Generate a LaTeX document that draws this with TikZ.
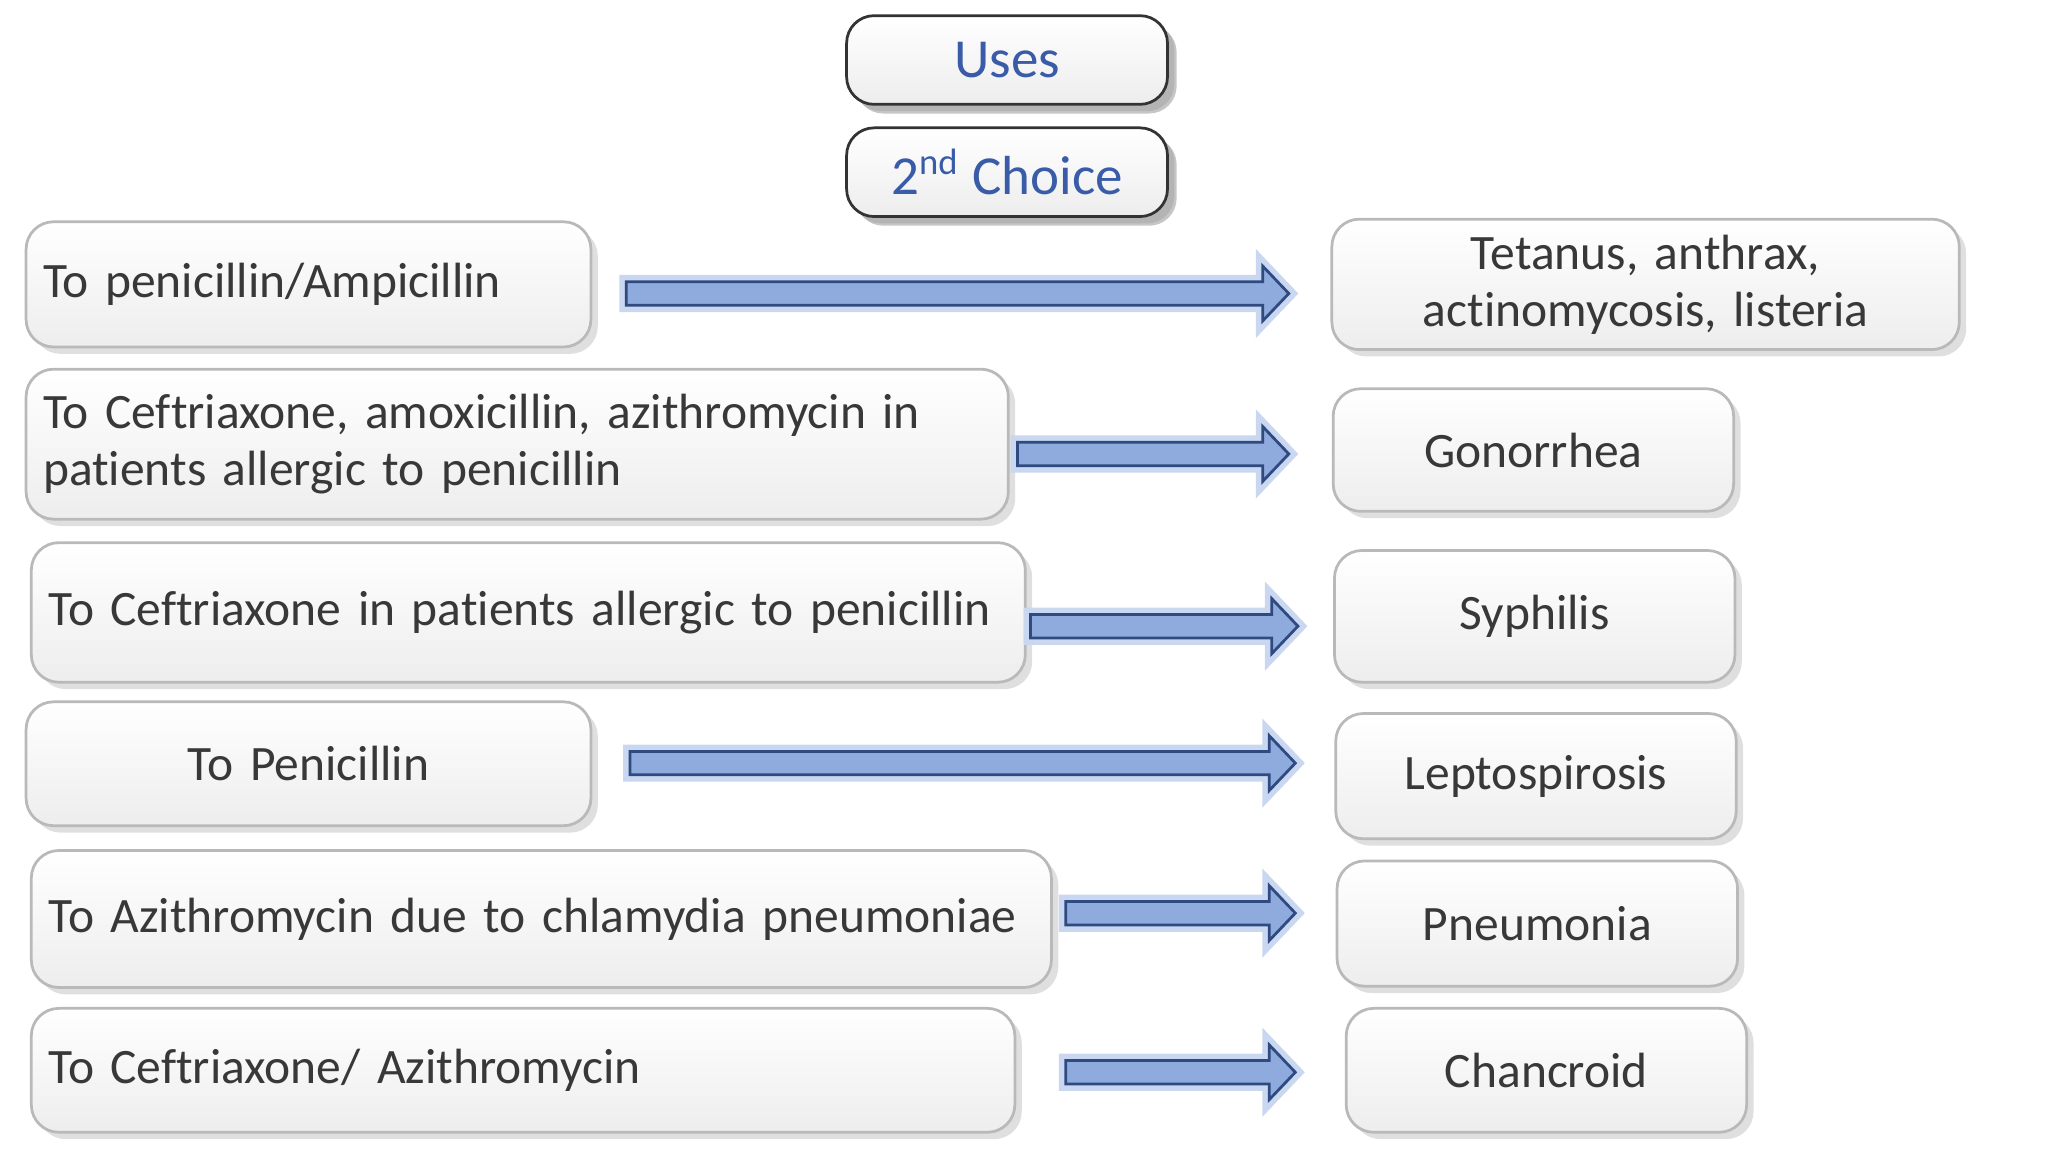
\documentclass[tikz,border=0pt]{standalone}
\usepackage{fontspec}
\setmainfont{Carlito}[Ligatures=NoCommon]
\usetikzlibrary{shadows,calc}
\definecolor{titleblue}{HTML}{3A5BA8}
\definecolor{arrowfill}{HTML}{8FAADC}
\definecolor{arrowline}{HTML}{2F4A80}
\definecolor{glow}{HTML}{C9D7F0}
\tikzset{
  box/.style={rectangle, rounded corners=6pt, draw=gray!55, line width=0.6pt,
    top color=white, bottom color=gray!14, drop shadow={shadow xshift=1.5pt, shadow yshift=-1.5pt, opacity=0.25},
    inner xsep=0.13cm, font=\fontsize{10.8}{12.4}\selectfont, text=black!78},
  titlebox/.style={box, draw=black!80, text=titleblue, minimum width=2.46cm, minimum height=0.68cm,
    font=\fontsize{12}{14}\selectfont, drop shadow={shadow xshift=2pt, shadow yshift=-2pt, opacity=0.45}},
  fatarrow/.style={fill=arrowfill, draw=arrowline, line width=0.6pt, line join=miter,
    preaction={draw=glow, line width=3pt}}
}
% fat arrow between two named coordinates
\newcommand{\fatarrow}[2]{%
  \draw[fatarrow] let \p1=(#1), \p2=(#2) in
    (\x1,\y1+0.09cm) -- (\x2-0.2cm,\y1+0.09cm) -- (\x2-0.2cm,\y1+0.21cm) -- (\x2,\y1)
    -- (\x2-0.2cm,\y1-0.21cm) -- (\x2-0.2cm,\y1-0.09cm) -- (\x1,\y1-0.09cm) -- cycle;}
\begin{document}
\begin{tikzpicture}
\useasboundingbox (0,0) rectangle (15.70,-8.83);

% Titles
\node[titlebox] (uses) at (7.72,-0.46) {Uses};
\node[titlebox] (second) at (7.72,-1.32) {2\textsuperscript{nd} Choice};

% Drugs
\node[box, minimum width=4.33cm, minimum height=0.96cm, text width=4.07cm, align=left] (l1) at (2.365,-2.18) {To penicillin/Ampicillin};
\node[box, minimum width=7.53cm, minimum height=1.15cm, text width=7.27cm, align=left] (l2) at (3.965,-3.405) {To Ceftriaxone, amoxicillin, azithromycin in patients allergic to penicillin};
\node[box, minimum width=7.62cm, minimum height=1.07cm, text width=7.36cm, align=left] (l3) at (4.05,-4.695) {To Ceftriaxone in patients allergic to penicillin};
\node[box, minimum width=4.33cm, minimum height=0.95cm, text width=4.07cm, align=center] (l4) at (2.365,-5.855) {To Penicillin};
\node[box, minimum width=7.82cm, minimum height=1.05cm, text width=7.56cm, align=left] (l5) at (4.15,-7.045) {To Azithromycin due to chlamydia pneumoniae};
\node[box, minimum width=7.54cm, minimum height=0.95cm, text width=7.28cm, align=left] (l6) at (4.01,-8.205) {To Ceftriaxone/ Azithromycin};

% Diseases
\node[box, minimum width=4.81cm, minimum height=1.0cm, text width=4.55cm, align=center] (r1) at (12.615,-2.18) {Tetanus, anthrax,\\actinomycosis, listeria};
\node[box, minimum width=3.07cm, minimum height=0.94cm, align=center] (r2) at (11.755,-3.45) {Gonorrhea};
\node[box, minimum width=3.07cm, minimum height=1.01cm, align=center] (r3) at (11.765,-4.725) {Syphilis};
\node[box, minimum width=3.07cm, minimum height=0.96cm, align=center] (r4) at (11.775,-5.95) {Leptospirosis};
\node[box, minimum width=3.07cm, minimum height=0.96cm, align=center] (r5) at (11.785,-7.08) {Pneumonia};
\node[box, minimum width=3.07cm, minimum height=0.95cm, align=center] (r6) at (11.855,-8.205) {Chancroid};

% Arrows
\coordinate (a1s) at (4.80,-2.25); \coordinate (a1e) at (9.88,-2.25);
\coordinate (a2s) at (7.80,-3.48); \coordinate (a2e) at (9.88,-3.48);
\coordinate (a3s) at (7.90,-4.80); \coordinate (a3e) at (9.95,-4.80);
\coordinate (a4s) at (4.83,-5.85); \coordinate (a4e) at (9.93,-5.85);
\coordinate (a5s) at (8.17,-7.00); \coordinate (a5e) at (9.93,-7.00);
\coordinate (a6s) at (8.17,-8.22); \coordinate (a6e) at (9.93,-8.22);
\foreach \i in {1,...,6} {\fatarrow{a\i s}{a\i e}}
\end{tikzpicture}
\end{document}
